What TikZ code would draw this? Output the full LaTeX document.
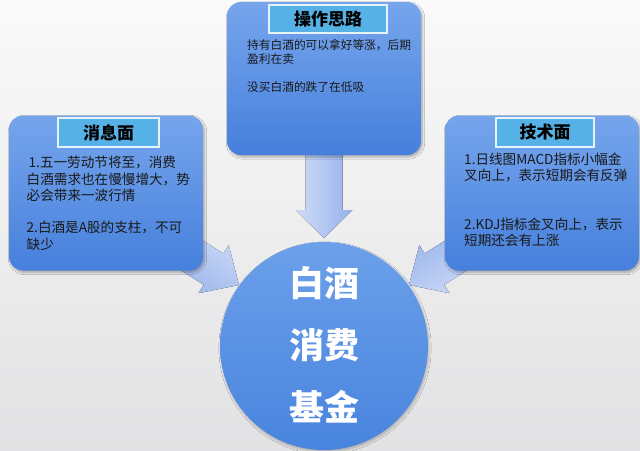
\documentclass[tikz,border=0pt]{standalone}
\usepackage{fontspec}
\setmainfont{Noto Sans CJK SC}
\usetikzlibrary{shadows.blur}
\definecolor{bgtop}{RGB}{250,250,250}
\definecolor{bgbot}{RGB}{226,226,228}
\definecolor{boxtop}{RGB}{118,165,236}
\definecolor{boxbot}{RGB}{70,128,220}
\definecolor{ttlfill}{RGB}{86,178,230}
\definecolor{circtop}{RGB}{108,160,234}
\definecolor{circbot}{RGB}{72,132,222}
\definecolor{arrL}{RGB}{208,220,248}
\definecolor{arrR}{RGB}{150,178,234}
\begin{document}
\begin{tikzpicture}[x=1pt,y=-1pt,
  panel/.style={rectangle, rounded corners=14pt, top color=boxtop, bottom color=boxbot,
     blur shadow={shadow xshift=1.5pt, shadow yshift=-2pt, shadow opacity=30, shadow blur steps=6}},
  ttl/.style={rectangle, draw=white!85!ttlfill, line width=1.3pt, fill=ttlfill, inner sep=0pt,
     font=\bfseries\fontsize{17}{17}\selectfont, text=black},
  body/.style={align=left, inner sep=0pt, anchor=north west, text=black!90},
  blk/.style={draw=none}
]
\useasboundingbox (0,0) rectangle (640,450);
\fill[top color=bgtop, bottom color=bgbot] (0,0) rectangle (640,450);

% block arrows (drawn first, tails hidden behind panels)
\fill[left color=arrL, right color=arrR] (305.5,140) -- (305.5,210) -- (295.5,210) -- (324,238)
   -- (352.5,210) -- (342.5,210) -- (342.5,140) -- cycle;
\fill[left color=arrL, right color=arrR, shading angle=-32]
   (164.1,216.2) -- (223.4,253.4) -- (228.7,245.0) -- (239,285) -- (198.5,293.2)
   -- (203.8,284.8) -- (144.5,247.6) -- cycle;
\fill[left color=arrR, right color=arrL, shading angle=32]
   (483.9,216.2) -- (424.6,253.4) -- (419.3,245.0) -- (409,285) -- (449.5,293.2)
   -- (444.2,284.8) -- (503.5,247.6) -- cycle;

% panels
\node[panel, minimum width=194pt, minimum height=155pt] (left) at (106,193) {};
\node[panel, minimum width=194pt, minimum height=153pt] (top) at (324,78.5) {};
\node[panel, minimum width=194pt, minimum height=155pt] (right) at (542,193) {};

% titles
\node[ttl, minimum width=101pt, minimum height=29pt] (t1) at (108.5,132.5) {消息面};
\node[ttl, minimum width=118pt, minimum height=28pt] (t2) at (328,19) {操作思路};
\node[ttl, minimum width=98pt, minimum height=29pt] (t3) at (545,132.5) {技术面};

% texts
\node[body, font=\fontsize{13.6}{16.5}\selectfont] (l1) at (26.5,156)
  {\hspace{2pt}1.五一劳动节将至，消费\\白酒需求也在慢慢增大，势\\必会带来一波行情};
\node[body, font=\fontsize{13.6}{16.5}\selectfont] (l2) at (26.5,221)
  {2.白酒是A股的支柱，不可\\缺少};
\node[body, font=\fontsize{11.7}{13.5}\selectfont] (m1) at (247,39.5)
  {持有白酒的可以拿好等涨，后期\\盈利在卖};
\node[body, font=\fontsize{11.7}{13.5}\selectfont] (m2) at (247,81)
  {没买白酒的跌了在低吸};
\node[body, font=\fontsize{13.6}{16}\selectfont] (r1) at (464,153)
  {1.日线图MACD指标小幅金\\叉向上，表示短期会有反弹};
\node[body, font=\fontsize{13.6}{16}\selectfont] (r2) at (464,218)
  {2.KDJ指标金叉向上，表示\\短期还会有上涨};

% circle
\node[circle, minimum size=208pt, inner sep=0pt, top color=circtop, bottom color=circbot,
      blur shadow={shadow xshift=1pt, shadow yshift=-2pt, shadow opacity=25, shadow blur steps=6}]
      (c) at (324,346) {};
\node[font=\bfseries\fontsize{35}{62}\selectfont, text=white, align=center] (ct) at (324,345)
  {白酒\\消费\\基金};
\end{tikzpicture}
\end{document}
